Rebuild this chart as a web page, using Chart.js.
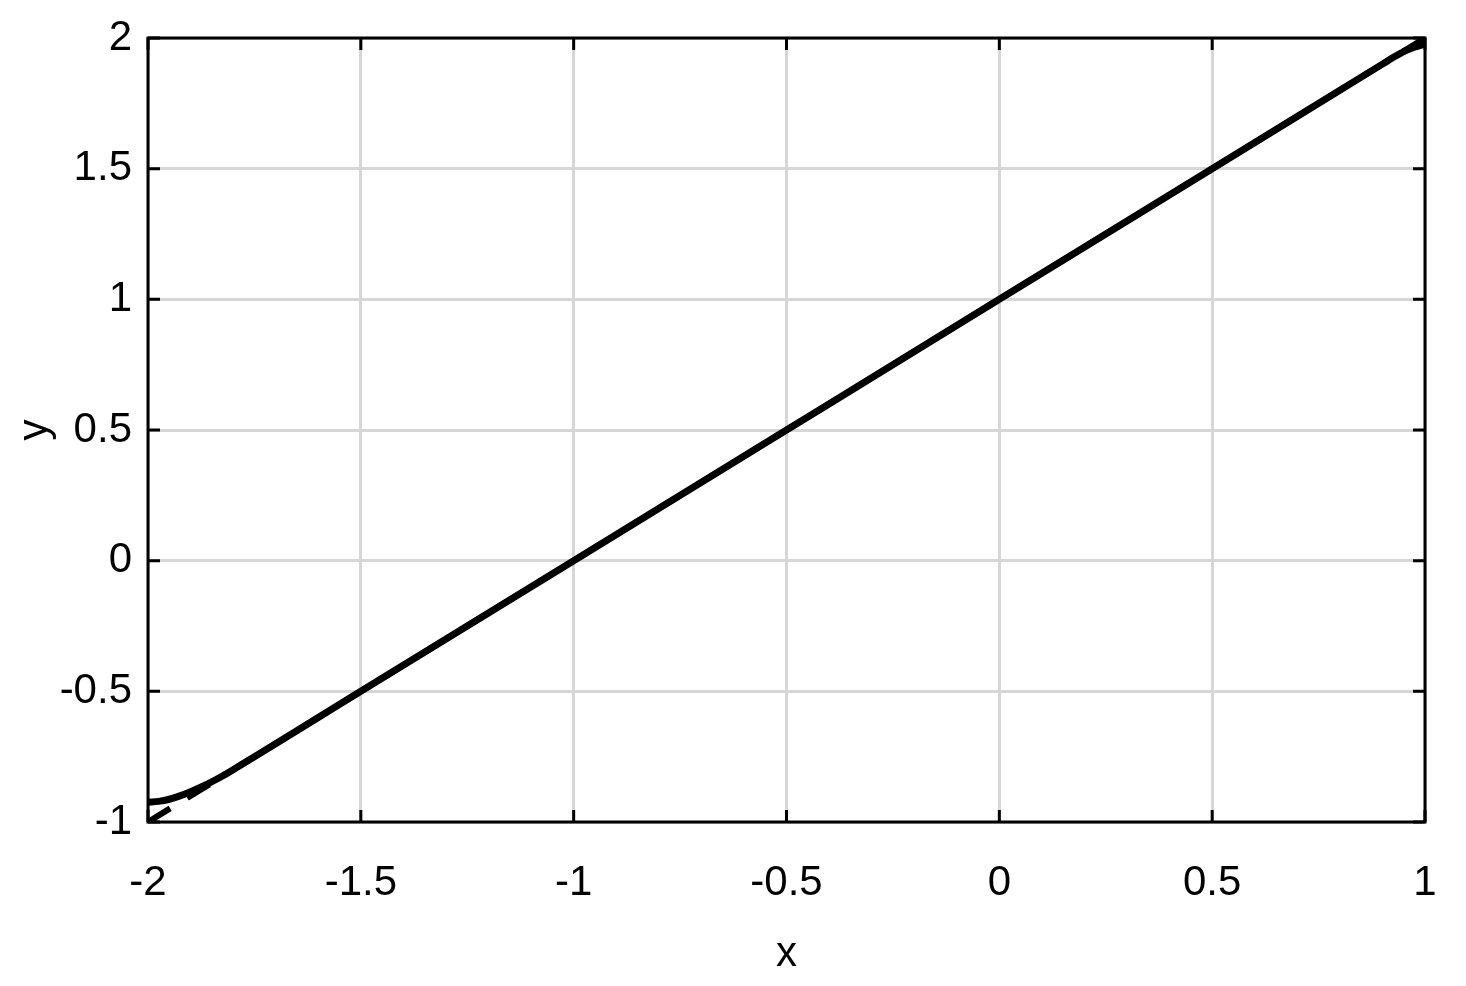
<!DOCTYPE html>
<html>
<head>
<meta charset="utf-8">
<script src="https://cdn.jsdelivr.net/npm/chart.js@4/dist/chart.umd.min.js"></script>
<style>
  html, body { margin: 0; padding: 0; background: #ffffff; }
  #wrap { width: 1466px; height: 986px; }
</style>
</head>
<body>
<div id="wrap"><canvas id="plot" width="1466" height="986"></canvas></div>
<script>
// exact line y = x + 1 (dashed)
const exactX = [-2, 1];
const exactY = [-1, 2];

// approximation (solid), bends off at both ends
const approxX = [-2, -1.975, -1.95, -1.925, -1.9, -1.875, -1.85, -1.825, -1.8, -1.5, -1, -0.5, 0, 0.5, 0.9, 0.925, 0.95, 0.975, 1];
const approxY = [-0.924, -0.921, -0.913, -0.9, -0.884, -0.866, -0.846, -0.824, -0.8, -0.5, 0, 0.5, 1, 1.5, 1.9, 1.925, 1.948, 1.965, 1.977];

const tickValues = [-2, -1.5, -1, -0.5, 0, 0.5, 1];
const yTickValues = [-1, -0.5, 0, 0.5, 1, 1.5, 2];

const FONT = "'Liberation Sans', Arial, sans-serif";

function toPoints(xs, ys) {
  return xs.map((x, i) => ({ x: x, y: ys[i] }));
}

// box around the plot plus inward tick marks on all four sides
const boxPlugin = {
  id: "boxTicks",
  beforeDatasetsDraw(chart) {
    const ctx = chart.ctx;
    const area = chart.chartArea;
    const xs = chart.scales.x;
    const ys = chart.scales.y;
    const len = 12;
    ctx.save();
    ctx.strokeStyle = "#000";
    ctx.lineWidth = 3;
    ctx.beginPath();
    tickValues.forEach((v) => {
      const px = xs.getPixelForValue(v);
      ctx.moveTo(px, area.bottom);
      ctx.lineTo(px, area.bottom - len);
      ctx.moveTo(px, area.top);
      ctx.lineTo(px, area.top + len);
    });
    yTickValues.forEach((v) => {
      const py = ys.getPixelForValue(v);
      ctx.moveTo(area.left, py);
      ctx.lineTo(area.left + len, py);
      ctx.moveTo(area.right, py);
      ctx.lineTo(area.right - len, py);
    });
    ctx.stroke();
    ctx.strokeRect(area.left, area.top, area.right - area.left, area.bottom - area.top);
    ctx.restore();
  },
};

new Chart(document.getElementById("plot").getContext("2d"), {
  type: "line",
  data: {
    datasets: [
      {
        label: "approx",
        data: toPoints(approxX, approxY),
        borderColor: "#000",
        borderWidth: 7,
        pointRadius: 0,
        cubicInterpolationMode: "monotone",
        fill: false,
        order: 0,
      },
      {
        label: "exact",
        data: toPoints(exactX, exactY),
        borderColor: "#000",
        borderWidth: 6,
        borderDash: [26, 20],
        pointRadius: 0,
        fill: false,
        order: 1,
      },
    ],
  },
  options: {
    responsive: false,
    devicePixelRatio: 1,
    animation: false,
    layout: { padding: { top: 38, right: 41, left: 0, bottom: 0 } },
    plugins: {
      legend: { display: false },
      tooltip: { enabled: false },
    },
    scales: {
      x: {
        type: "linear",
        min: -2,
        max: 1,
        afterFit: (scale) => {
          scale.height = 164;
          scale.paddingLeft = 0;
          scale.paddingRight = 0;
        },
        afterBuildTicks: (scale) => { scale.ticks = tickValues.map((v) => ({ value: v })); },
        grid: { color: "#d6d6d6", lineWidth: 3, drawTicks: false },
        border: { display: false },
        ticks: { color: "#000", font: { family: FONT, size: 42 }, padding: 36, maxRotation: 0, callback: (v) => String(v) },
        title: { display: true, text: "x", color: "#000", font: { family: FONT, size: 42 }, padding: { top: 0, bottom: 6 } },
      },
      y: {
        type: "linear",
        min: -1,
        max: 2,
        afterFit: (scale) => {
          scale.width = 148;
          scale.paddingTop = 0;
          scale.paddingBottom = 0;
        },
        afterBuildTicks: (scale) => { scale.ticks = yTickValues.map((v) => ({ value: v })); },
        grid: { color: "#d6d6d6", lineWidth: 3, drawTicks: false },
        border: { display: false },
        ticks: { color: "#000", font: { family: FONT, size: 42 }, padding: 16, callback: (v) => String(v) },
        title: { display: true, text: "y", color: "#000", font: { family: FONT, size: 42 }, padding: { top: 10, bottom: 0 } },
      },
    },
  },
  plugins: [boxPlugin],
});
</script>
</body>
</html>
